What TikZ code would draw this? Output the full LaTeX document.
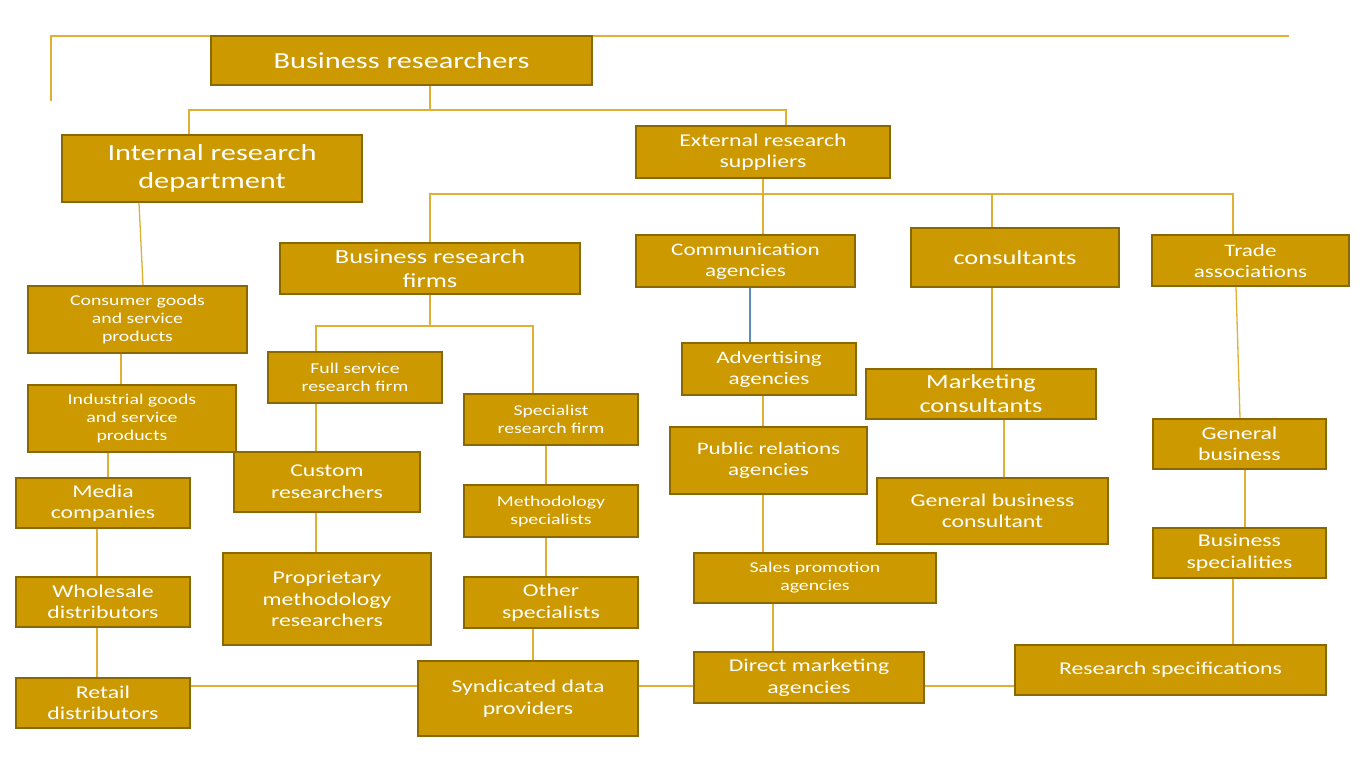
\documentclass[tikz,border=0pt]{standalone}
\usepackage{fontspec}
\setmainfont[FakeStretch=1.32]{Carlito}
\definecolor{boxfill}{HTML}{CC9900}
\definecolor{boxline}{HTML}{8A6800}
\definecolor{conn}{HTML}{E0B035}
\definecolor{bluecon}{HTML}{5B8DB8}
\tikzset{
  bx/.style={draw=boxline, line width=2.2pt, fill=boxfill, text=white, align=center, inner sep=0pt},
  cn/.style={draw=conn, line width=1.3pt},
}
\newcommand{\bx}[7]{%
  \node[bx, minimum width={(#4-#2)*1pt}, minimum height={(#5-#3)*1pt},
    font={\fontsize{#6}{#6}\selectfont\setlength\baselineskip{1.2\dimexpr#6pt\relax}}] (#1) at ({(#2+#4)/2},{(#3+#5)/2}) {#7};}
\begin{document}
\begin{tikzpicture}[x=1pt,y=-1pt]
\useasboundingbox (0,0) rectangle (1364,771);
% frame
\coordinate (fa) at (51,101); \coordinate (fb) at (51,36); \coordinate (fc) at (1289,36);
\draw[cn] (fa) -- (fb) -- (fc);
\draw[cn] (430,85) -- (430,110);
\draw[cn] (189,135) -- (189,110) -- (786,110) -- (786,126);
\draw[cn] (763,178) -- (763,194);
\draw[cn] (430,243) -- (430,194) -- (1233,194) -- (1233,235);
\draw[cn] (763,194) -- (763,235);
\draw[cn] (992,194) -- (992,228);
% boxes
\bx{BR}{211}{36}{592}{85}{23}{Business researchers}
\bx{IRD}{62}{135}{362}{202}{23}{Internal research\\department}
\bx{ERS}{636}{126}{890}{178}{18}{External research\\suppliers}
\bx{BRF}{280}{243}{580}{294}{20}{Business research\\firms}
\bx{CA}{636}{235}{855}{287}{17.5}{Communication\\agencies}
\bx{CONS}{911}{228}{1119}{287}{20}{consultants}
\bx{TA}{1152}{235}{1349}{286}{17.5}{Trade\\associations}
\bx{CG}{28}{286}{247}{353}{15}{Consumer goods\\and service\\products}
\bx{IG}{28}{385}{236}{452}{15}{Industrial goods\\and service\\products}
\bx{MC}{16}{478}{190}{528}{18}{Media\\companies}
\bx{WD}{16}{577}{190}{627}{18}{Wholesale\\distributors}
\bx{RD}{16}{678}{190}{728}{18}{Retail\\distributors}
\bx{FSR}{268}{352}{442}{403}{15}{Full service\\research firm}
\bx{CR}{234}{452}{420}{512}{18}{Custom\\researchers}
\bx{PMR}{223}{553}{431}{645}{18}{Proprietary\\methodology\\researchers}
\bx{SRF}{464}{394}{638}{445}{15}{Specialist\\research firm}
\bx{MS}{464}{485}{638}{537}{15}{Methodology\\specialists}
\bx{OS}{464}{577}{638}{628}{18}{Other\\specialists}
\bx{SDP}{418}{661}{638}{736}{18}{Syndicated data\\providers}
\bx{AA}{682}{343}{856}{395}{17.5}{Advertising\\agencies}
\bx{PRA}{670}{427}{867}{494}{17.5}{Public relations\\agencies}
\bx{SPA}{694}{553}{936}{603}{15}{Sales promotion\\agencies}
\bx{DMA}{694}{652}{924}{703}{18}{Direct marketing\\agencies}
\bx{MKC}{866}{369}{1096}{419}{20}{Marketing\\consultants}
\bx{GBC}{877}{478}{1108}{544}{18}{General business\\consultant}
\bx{GB}{1153}{419}{1326}{469}{18}{General\\business}
\bx{BS}{1153}{528}{1326}{578}{18}{Business\\specialities}
\bx{RS}{1015}{645}{1326}{695}{18}{Research specifications}
% connectors
\draw[cn] (139,0 |- IRD.south) -- (143,0 |- CG.north);
\draw[cn] (121,0 |- CG.south) -- (121,0 |- IG.north);
\draw[cn] (108,0 |- IG.south) -- (108,0 |- MC.north);
\draw[cn] (97,0 |- MC.south) -- (97,0 |- WD.north);
\draw[cn] (97,0 |- WD.south) -- (97,0 |- RD.north);
\draw[cn] (RD.east |- 0,686) -- (SDP.west |- 0,686);
\draw[cn] (SDP.east |- 0,686) -- (DMA.west |- 0,686);
\draw[cn] (DMA.east |- 0,686) -- (RS.west |- 0,686);
\draw[cn] (BRF.south) -- (430,326);
\draw[cn] (316,0 |- FSR.north) -- (316,326) -- (533,326) -- (533,0 |- SRF.north);
\draw[cn] (316,0 |- FSR.south) -- (316,0 |- CR.north);
\draw[cn] (316,0 |- CR.south) -- (316,0 |- PMR.north);
\draw[cn] (546,0 |- SRF.south) -- (546,0 |- MS.north);
\draw[cn] (546,0 |- MS.south) -- (546,0 |- OS.north);
\draw[cn] (533,0 |- OS.south) -- (533,0 |- SDP.north);
\draw[draw=bluecon, line width=1.3pt] (750,0 |- CA.south) -- (750,0 |- AA.north);
\draw[cn] (763,0 |- AA.south) -- (763,0 |- PRA.north);
\draw[cn] (763,0 |- PRA.south) -- (763,0 |- SPA.north);
\draw[cn] (773,0 |- SPA.south) -- (773,0 |- DMA.north);
\draw[cn] (992,0 |- CONS.south) -- (992,0 |- MKC.north);
\draw[cn] (1004,0 |- MKC.south) -- (1004,0 |- GBC.north);
\draw[cn] (1236,0 |- TA.south) -- (1240,0 |- GB.north);
\draw[cn] (1245,0 |- GB.south) -- (1245,0 |- BS.north);
\draw[cn] (1233,0 |- BS.south) -- (1233,0 |- RS.north);
\end{tikzpicture}
\end{document}
